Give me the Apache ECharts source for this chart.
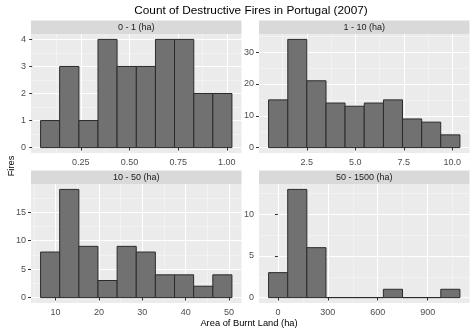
<!DOCTYPE html>
<html><head><meta charset="utf-8">
<script src="https://cdn.jsdelivr.net/npm/echarts@6/dist/echarts.min.js"></script>
<style>html,body{margin:0;padding:0;background:#fff}#c{width:474px;height:332px}</style>
</head><body><div id="c"></div>
<script>
// ---- data ----
const titleText = 'Count of Destructive Fires in Portugal (2007)';
const panelNames = ['0 - 1 (ha)', '1 - 10 (ha)', '10 - 50 (ha)', '50 - 1500 (ha)'];
const xTitle = 'Area of Burnt Land (ha)';
const yTitle = 'Fires';

// bin edges (11 edges -> 10 bins) and counts per panel
const edges0_1 = [0.043, 0.141, 0.240, 0.338, 0.436, 0.535, 0.633, 0.731, 0.830, 0.928, 1.026];
const counts0_1 = [1, 3, 1, 4, 3, 3, 4, 4, 2, 2];
const edges1_10 = [0.53, 1.52, 2.50, 3.49, 4.47, 5.46, 6.45, 7.43, 8.42, 9.40, 10.39];
const counts1_10 = [15, 34, 21, 14, 13, 14, 15, 9, 8, 4];
const edges10_50 = [6.53, 10.94, 15.36, 19.77, 24.19, 28.60, 33.01, 37.43, 41.84, 46.26, 50.67];
const counts10_50 = [8, 19, 9, 3, 9, 8, 4, 4, 2, 4];
const edges50_1500 = [-56, 59, 174, 289, 404, 519, 634, 749, 864, 979, 1094];
const counts50_1500 = [3, 13, 6, 0, 0, 0, 1, 0, 0, 1];

// tick values (major = labelled, minor = grid only)
const xMajor = [[0.25, 0.50, 0.75, 1.00], [0, 2.5, 5, 7.5, 10], [10, 20, 30, 40, 50], [0, 300, 600, 900]];
const xMinor = [[0.125, 0.375, 0.625, 0.875], [1.25, 3.75, 6.25, 8.75], [5, 15, 25, 35, 45], [150, 450, 750, 1050]];
const yMajor = [[0, 1, 2, 3, 4], [0, 10, 20, 30], [0, 5, 10, 15], [0, 5, 10]];
const yMinor = [[0.5, 1.5, 2.5, 3.5], [5, 15, 25, 35], [2.5, 7.5, 12.5, 17.5], [2.5, 7.5, 12.5]];
const xLabelFmt = [v => v.toFixed(2), v => v.toFixed(1), v => String(v), v => String(v)];

// ---- layout ----
const FONT = '"Liberation Sans", Arial, sans-serif';
const panels = [
  {edges: edges0_1, counts: counts0_1},
  {edges: edges1_10, counts: counts1_10},
  {edges: edges10_50, counts: counts10_50},
  {edges: edges50_1500, counts: counts50_1500}
];
const gridPos = [
  {left: 31, top: 34}, {left: 259, top: 34},
  {left: 31, top: 184}, {left: 259, top: 184}
];
const GW = 210.5, GH = 119, STRIP = 13.5;

function extent(arr, lo0) {
  const lo = lo0 !== undefined ? lo0 : Math.min(...arr);
  const hi = Math.max(...arr);
  const pad = (hi - lo) * 0.05;
  return [lo - pad, hi + pad];
}

const grids = [], xAxes = [], yAxes = [], series = [], graphics = [];

panels.forEach((p, i) => {
  const g = gridPos[i];
  grids.push({left: g.left, top: g.top, width: GW, height: GH, show: true,
    backgroundColor: '#EBEBEB', borderWidth: 0, containLabel: false});
  const xe = extent(p.edges);
  const ye = extent(p.counts, 0);
  // major axes (labels, ticks, major grid)
  xAxes.push({type: 'value', gridIndex: i, min: xe[0], max: xe[1],
    axisLine: {show: false},
    axisTick: {show: true, length: 3, lineStyle: {color: '#333', width: 1}, customValues: xMajor[i]},
    axisLabel: {show: true, customValues: xMajor[i], formatter: xLabelFmt[i], color: '#4D4D4D',
      fontSize: 9, fontFamily: FONT, margin: 5},
    splitLine: {show: true, lineStyle: {color: '#FFFFFF', width: 1.1}}
  });
  yAxes.push({type: 'value', gridIndex: i, min: ye[0], max: ye[1],
    axisLine: {show: false},
    axisTick: {show: true, length: 3, lineStyle: {color: '#333', width: 1}, customValues: yMajor[i]},
    axisLabel: {show: true, customValues: yMajor[i], color: '#4D4D4D', fontSize: 9, fontFamily: FONT, margin: 5},
    splitLine: {show: true, lineStyle: {color: '#FFFFFF', width: 1.1}}
  });
  // minor axes (grid only)
  xAxes.push({type: 'value', gridIndex: i, min: xe[0], max: xe[1], position: 'bottom',
    axisLine: {show: false}, axisLabel: {show: false},
    axisTick: {show: false, customValues: xMinor[i]},
    splitLine: {show: true, lineStyle: {color: '#F7F7F7', width: 0.6}}
  });
  yAxes.push({type: 'value', gridIndex: i, min: ye[0], max: ye[1], position: 'left',
    axisLine: {show: false}, axisLabel: {show: false},
    axisTick: {show: false, customValues: yMinor[i]},
    splitLine: {show: true, lineStyle: {color: '#F7F7F7', width: 0.6}}
  });
  const data = p.counts.map((c, k) => [p.edges[k], p.edges[k + 1], c]);
  series.push({
    type: 'custom', xAxisIndex: 2 * i, yAxisIndex: 2 * i, z: 5,
    encode: {x: [0, 1], y: 2},
    data: data,
    renderItem: function (params, api) {
      const a = api.coord([api.value(0), 0]);
      const b = api.coord([api.value(1), api.value(2)]);
      return {type: 'rect',
        shape: {x: a[0], y: b[1], width: b[0] - a[0], height: a[1] - b[1]},
        style: {fill: '#717171', stroke: '#2B2B2B', lineWidth: 1}};
    }
  });
  // strip
  graphics.push({type: 'rect', shape: {x: g.left, y: g.top - STRIP, width: GW, height: STRIP},
    style: {fill: '#D9D9D9'}, silent: true});
  graphics.push({type: 'text', x: g.left + GW / 2, y: g.top - STRIP / 2,
    style: {text: panelNames[i], fill: '#1A1A1A', font: '9px ' + FONT, textAlign: 'center', textVerticalAlign: 'middle'}});
});

graphics.push({type: 'text', x: 251, y: 11,
  style: {text: titleText, fill: '#000', font: '11.8px ' + FONT, textAlign: 'center', textVerticalAlign: 'middle'}});
graphics.push({type: 'text', x: 249, y: 323,
  style: {text: xTitle, fill: '#000', font: '9.3px ' + FONT, textAlign: 'center', textVerticalAlign: 'middle'}});
graphics.push({type: 'text', x: 11, y: 166, rotation: Math.PI / 2,
  style: {text: yTitle, fill: '#000', font: '9.3px ' + FONT, textAlign: 'center', textVerticalAlign: 'middle'}});

const chart = echarts.init(document.getElementById('c'), null, {renderer: 'canvas'});
chart.setOption({
  animation: false,
  backgroundColor: '#FFFFFF',
  grid: grids, xAxis: xAxes, yAxis: yAxes, series: series, graphic: graphics
});
</script></body></html>
